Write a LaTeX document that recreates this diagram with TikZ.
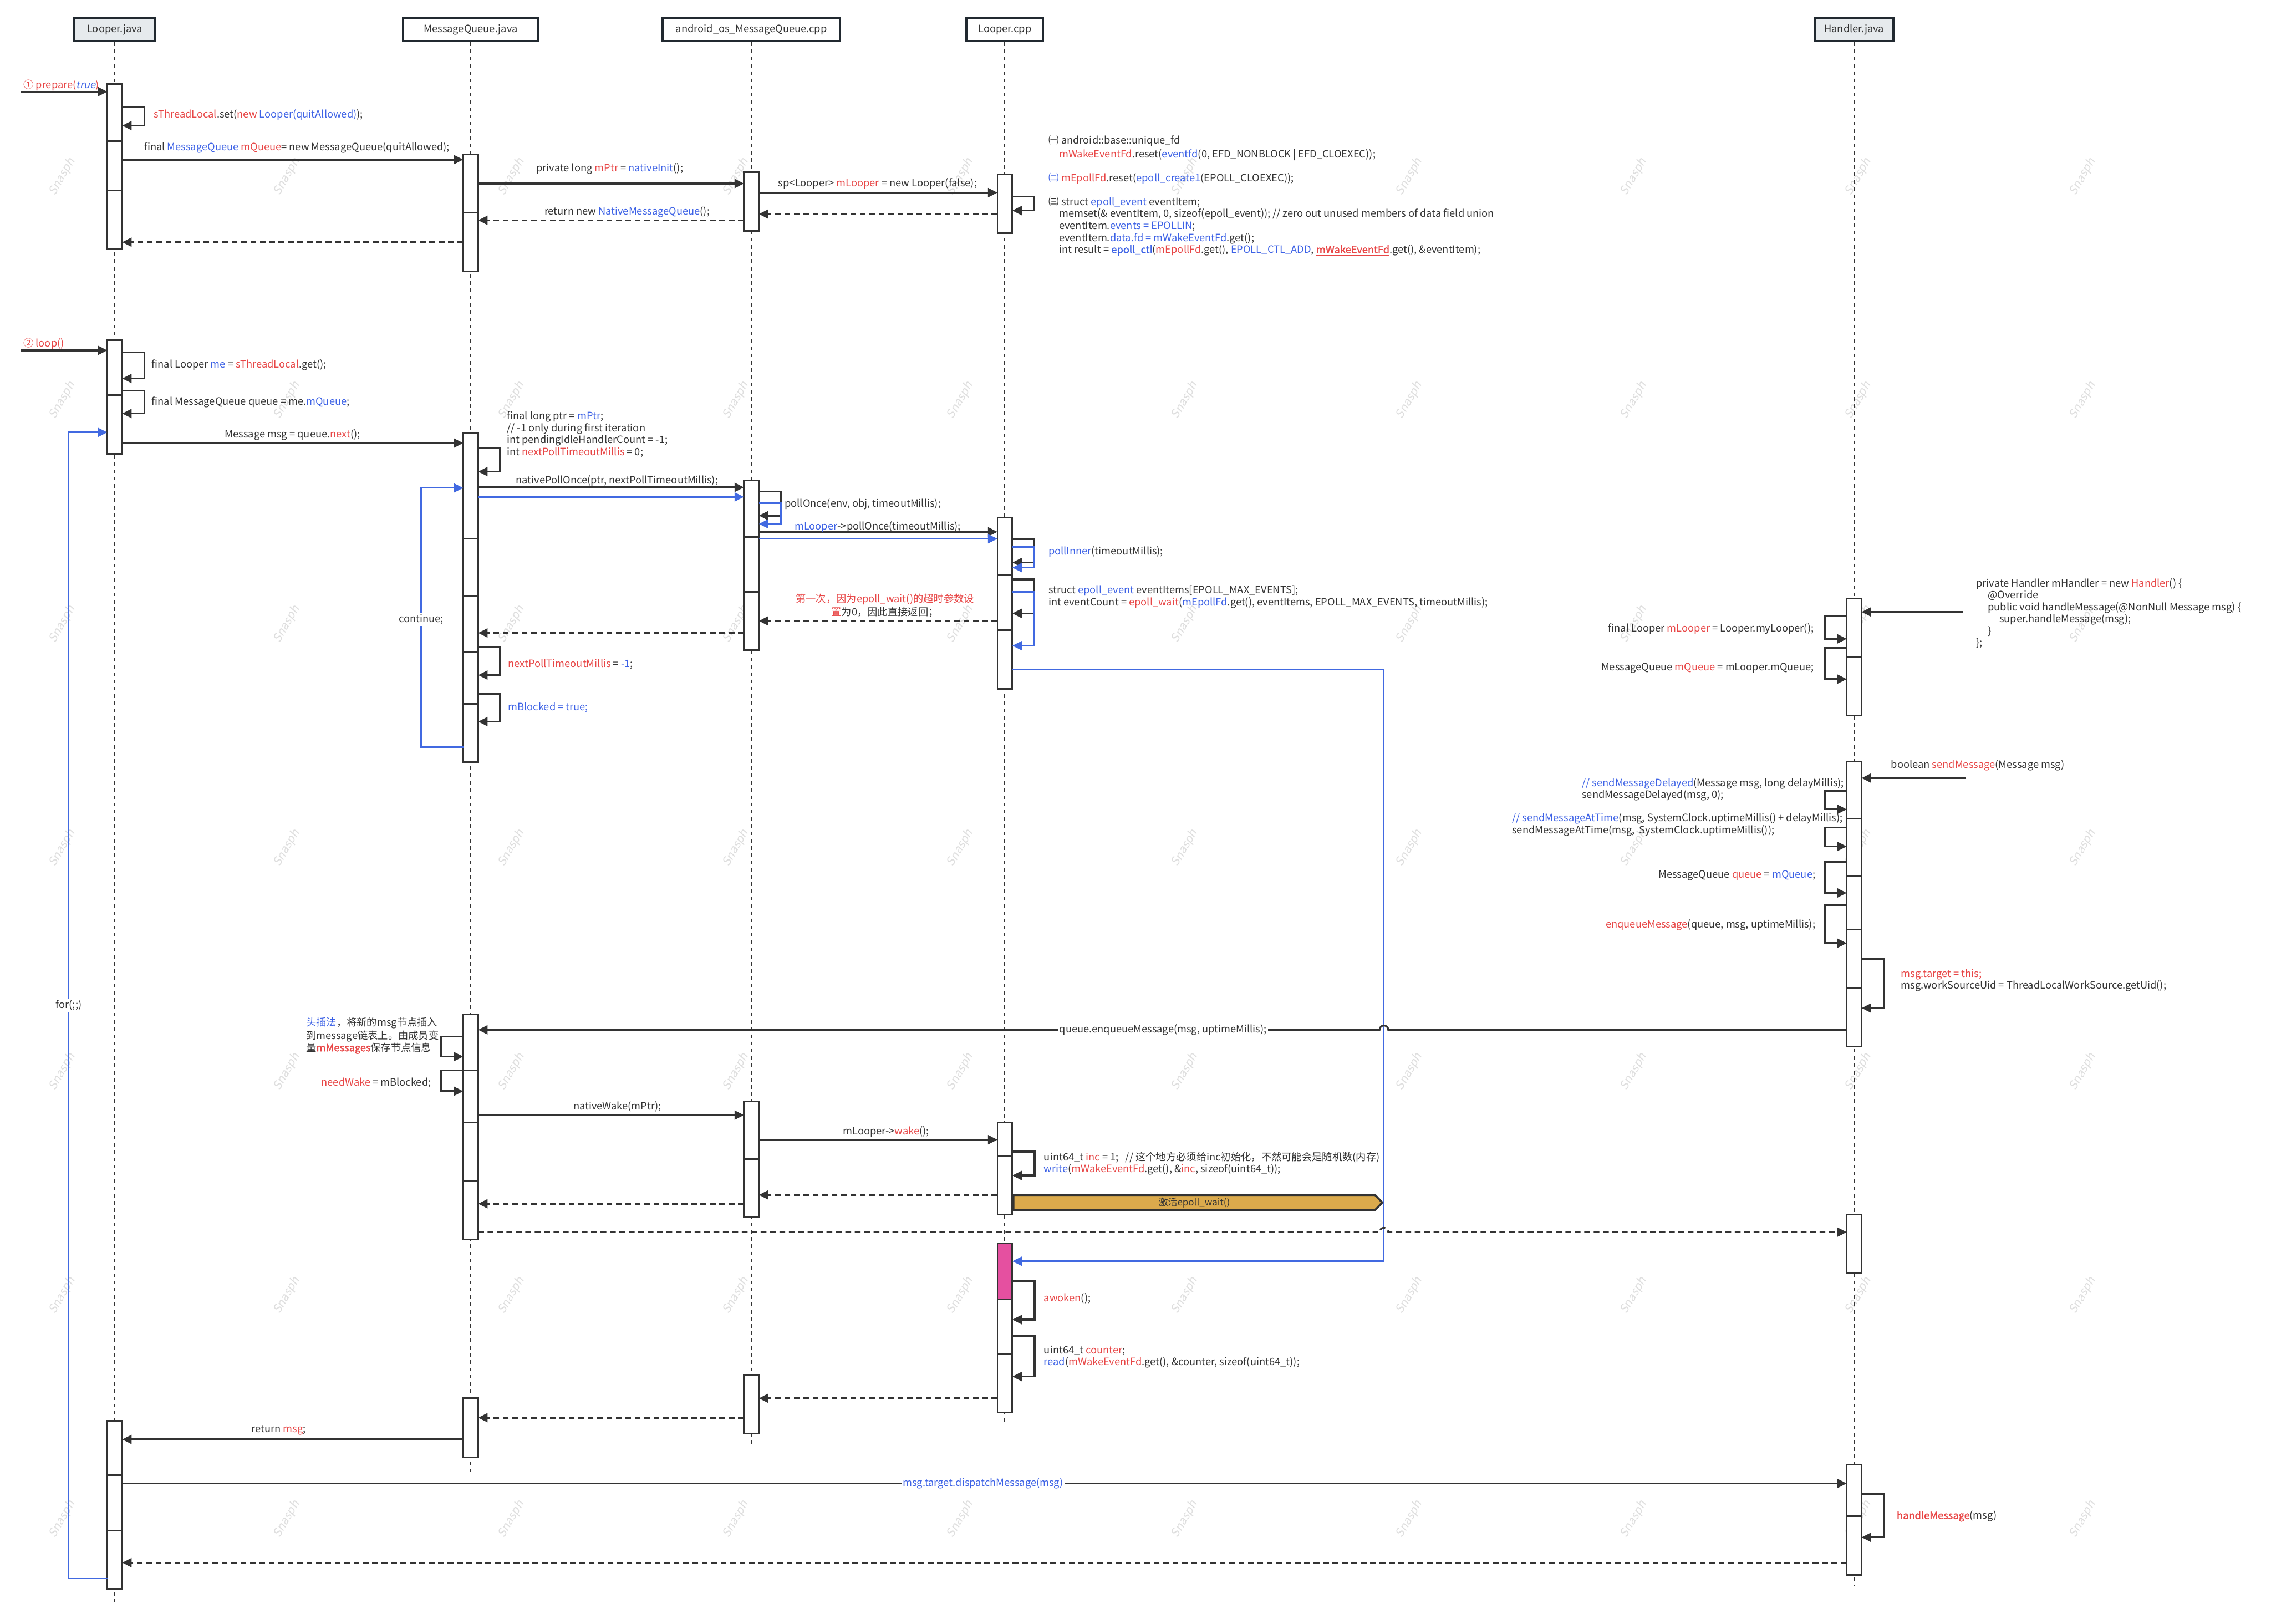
\documentclass[tikz,border=0pt]{standalone}
\usepackage{fontspec}
\setmainfont{Noto Sans CJK SC}[AutoFakeSlant=0.2,AutoFakeBold=1.5]
\usetikzlibrary{arrows.meta}
\usetikzlibrary{shapes.symbols}
\definecolor{SeqDark}{RGB}{51,51,51}
\definecolor{SeqHead}{RGB}{33,41,48}
\definecolor{SeqHeadFill}{RGB}{230,234,237}
\definecolor{SeqRed}{RGB}{232,70,70}
\definecolor{SeqBlue}{RGB}{61,98,230}
\definecolor{SeqLoop}{RGB}{65,105,225}
\definecolor{SeqGold}{RGB}{219,170,76}
\definecolor{SeqPink}{RGB}{229,80,160}
\definecolor{SeqMark}{RGB}{222,222,222}
\newcommand{\cred}[1]{\textcolor{SeqRed}{#1}}
\newcommand{\cblue}[1]{\textcolor{SeqBlue}{#1}}

\begin{document}
\begin{tikzpicture}[x=1pt,y=-1pt,line join=miter]
  \path[use as bounding box] (0,0) rectangle (1568,1121);
  \fill[white] (0,0) rectangle (1568,1121);

  \tikzset{
    lifehead/.style={draw=SeqHead,line width=1.4pt,fill=white,minimum height=15.8pt,inner sep=0pt,
      text=SeqDark,font=\fontsize{7pt}{8.25pt}\selectfont},
    lifeline/.style={draw=SeqDark,line width=0.8pt,dash pattern=on 2.5pt off 2.5pt},
    actbar/.style={draw=SeqDark,fill=white,line width=1.1pt,minimum width=10.3pt,inner sep=0pt,outer sep=0pt},
    barcut/.style={draw=SeqDark,line width=1.1pt},
    msg/.style={draw=SeqDark,line width=1.25pt,-{Triangle[length=6.5pt,width=6.2pt]}},
    ret/.style={msg,dash pattern=on 4pt off 2.5pt},
    loopline/.style={draw=SeqLoop,line width=1pt,-{Triangle[length=6.5pt,width=6.2pt]}},
    code/.style={inner sep=0pt,text=SeqDark,font=\fontsize{7pt}{8.25pt}\selectfont},
    codeblock/.style={code,align=left,anchor=north west},
    onlabel/.style={code,fill=white,inner sep=1pt},
    wmark/.style={inner sep=0pt,text=SeqMark,rotate=60,font=\fontsize{8pt}{8pt}\selectfont\itshape},
    wakeflag/.style={signal,signal to=east,signal from=nowhere,signal pointer angle=93,draw=SeqDark,
      line width=1.4pt,fill=SeqGold,minimum width=254.7pt,minimum height=10.3pt,inner sep=0pt,
      text=SeqDark,font=\fontsize{6.5pt}{7pt}\selectfont},
  }

  % watermark grid
  \foreach \i in {0,...,9} {
    \foreach \j in {0,...,6} {
      \node[wmark] (wm\i\j) at ({43+155*\i},{122+154.5*\j}) {Snasph};
    }
  }

  % ==================== LIFELINES ====================
  \node[lifehead,fill=SeqHeadFill,minimum width=56pt] (hLooper) at (79.25,20.6) {Looper.java};
  \node[lifehead,minimum width=93.6pt] (hQueue) at (325,20.6) {MessageQueue.java};
  \node[lifehead,minimum width=122.8pt] (hNative) at (518.8,20.6) {android\_os\_MessageQueue.cpp};
  \node[lifehead,minimum width=53pt] (hCpp) at (693.8,20.6) {Looper.cpp};
  \node[lifehead,fill=SeqHeadFill,minimum width=54pt] (hHandler) at (1280.2,20.6) {Handler.java};

  \draw[lifeline] (hLooper.south) -- (hLooper.south |- 0,1106);
  \draw[lifeline] (hQueue.south) -- (hQueue.south |- 0,1016);
  \draw[lifeline] (hNative.south) -- (hNative.south |- 0,998);
  \draw[lifeline] (hCpp.south) -- (hCpp.south |- 0,983);
  \draw[lifeline] (hHandler.south) -- (hHandler.south |- 0,1095);

  % activation bars (name/x/top/bottom)
  \foreach \n/\x/\t/\b in {lj1/79.25/58/171.8, lj2/79.25/234.7/313.3, lj3/79.25/980.8/1097.1,
      mq1/325/106.5/187.3, mq2/325/299.1/526.2, mq3/325/700.2/855.6, mq4/325/965.3/1006,
      an1/518.8/119/159.4, an2/518.8/331.6/449, an3/518.8/760.5/840.5, an4/518.8/949.4/989.9,
      cp1/693.8/120.6/161, cp2/693.8/357.3/475.5, cp3/693.8/775/838.4, cp4/693.8/897/975.3,
      hd1/1280.2/413.1/494, hd2/1280.2/525.6/722.4, hd3/1280.2/838.5/878.6, hd4/1280.2/1011.4/1087.3} {
    \node[actbar,minimum height={(\b-\t)*1pt}] (\n) at (\x,{(\t+\b)/2}) {};
  }
  \node[actbar,fill=SeqPink,minimum height=38.5pt] (cp4a) at (693.8,877.75) {};

  \foreach \n/\y in {lj1/97.5,lj1/131.5,lj2/272.8,lj3/1018.6,lj3/1056.7,mq1/146.8,
      mq2/371.9,mq2/411.4,mq2/449.9,mq2/486.1,mq3/738.8,mq3/775,mq3/815.3,
      an2/370.9,an2/408.6,an3/800.2,cp2/396.8,cp2/435.1,cp3/798.3,cp4/934.8,
      hd1/453.5,hd2/565.2,hd2/604.7,hd2/641.8,hd2/682.2,hd4/1046.8} {
    \draw[barcut] (\n.west |- 0,\y) -- (\n.east |- 0,\y);
  }

  % ==================== PREPARE ====================
  \coordinate (prepIn) at (14,63.3);
  \draw[msg] (prepIn) -- (lj1.west |- prepIn);
  \draw[msg] (lj1.east |- 0,73.7) -- ++(15.4,0) |- (lj1.east |- 0,86.7);
  \draw[msg] (lj1.east |- 0,110.2) -- (mq1.west |- 0,110.2);
  \draw[msg] (mq1.east |- 0,126.7) -- (an1.west |- 0,126.7);
  \draw[msg] (an1.east |- 0,133) -- (cp1.west |- 0,133);
  \draw[msg] (cp1.east |- 0,135.7) -- ++(15,0) |- (cp1.east |- 0,145.4);
  \draw[ret] (cp1.west |- 0,147.8) -- (an1.east |- 0,147.8);
  \draw[ret] (an1.west |- 0,152.1) -- (mq1.east |- 0,152.1);
  \draw[ret] (mq1.west |- 0,167.2) -- (lj1.east |- 0,167.2);

  \node[code,anchor=base west] (tPrepare) at (16,60.9) {\cred{① prepare(}\cblue{\textit{true}}\cred{)}};
  \node[code,anchor=base west] (tSet) at (105.9,81.3) {\cred{sThreadLocal}.set(\cred{new }\cblue{Looper(quitAllowed)});};
  \node[code,anchor=base] (tNewQueue) at (205,104.1) {final \cblue{MessageQueue} \cred{mQueue}= new MessageQueue(quitAllowed);};
  \node[code,anchor=base] (tInit) at (421,118.3) {private long \cred{mPtr} = \cblue{nativeInit}();};
  \node[code,anchor=base] (tNewLooper) at (606,128.8) {sp<Looper> \cred{mLooper} = new Looper(false);};
  \node[code,anchor=base] (tRetNative) at (433,148.5) {return new \cblue{NativeMessageQueue}();};
  \node[codeblock] (tEpollInit) at (724,93.4) {\strut㈠ android::base::unique\_fd\\
    \hspace*{7pt}\cred{mWakeEventFd}.reset(\cblue{eventfd}(0, EFD\_NONBLOCK | EFD\_CLOEXEC));\\[8.25pt]
    \cblue{㈡} \cred{mEpollFd}.reset(\cblue{epoll\_create1}(EPOLL\_CLOEXEC));\\[8.25pt]
    ㈢ struct \cblue{epoll\_event} eventItem;\\
    \hspace*{7pt}memset(\& eventItem, 0, sizeof(epoll\_event)); // zero out unused members of data field union\\
    \hspace*{7pt}eventItem.\cblue{events = EPOLLIN};\\
    \hspace*{7pt}eventItem.\cblue{data.fd = mWakeEventFd}.get();\\
    \hspace*{7pt}int result = \cblue{\textbf{epoll\_ctl}}(\cred{mEpollFd}.get(), \cblue{EPOLL\_CTL\_ADD}, \cred{\textbf{\underline{mWakeEventFd}}}.get(), \&eventItem);};

  % ==================== LOOP ====================
  \coordinate (loopIn) at (14.4,241.9);
  \draw[msg] (loopIn) -- (lj2.west |- loopIn);
  \draw[msg] (lj2.east |- 0,243.4) -- ++(15.4,0) |- (lj2.east |- 0,261.3);
  \draw[msg] (lj2.east |- 0,269.7) -- ++(15.4,0) |- (lj2.east |- 0,285.5);
  \draw[msg] (lj2.east |- 0,305.9) -- (mq2.west |- 0,305.9);
  \draw[msg] (mq2.east |- 0,309) -- ++(15,0) |- (mq2.east |- 0,325.6);
  \draw[msg] (mq2.east |- 0,336.5) -- (an2.west |- 0,336.5);
  \draw[loopline] (mq2.east |- 0,343.1) -- (an2.west |- 0,343.1);
  \draw[msg] (an2.east |- 0,339.3) -- ++(15.2,0) |- (an2.east |- 0,356);
  \draw[loopline] (an2.east |- 0,347.5) -- ++(15.2,0) |- (an2.east |- 0,361.7);
  \draw[msg] (an2.east |- 0,367.2) -- (cp2.west |- 0,367.2);
  \draw[loopline] (an2.east |- 0,372) -- (cp2.west |- 0,372);
  \draw[msg] (cp2.east |- 0,372.3) -- ++(14.8,0) |- (cp2.east |- 0,388.4);
  \draw[loopline] (cp2.east |- 0,377.7) -- ++(14.8,0) |- (cp2.east |- 0,391.9);
  \draw[msg] (cp2.east |- 0,400) -- ++(14.8,0) |- (cp2.east |- 0,423.5);
  \draw[loopline] (cp2.east |- 0,408.6) -- ++(14.8,0) |- (cp2.east |- 0,445.8);
  \draw[ret] (cp2.west |- 0,428.7) -- (an2.east |- 0,428.7);
  \draw[ret] (an2.west |- 0,437) -- (mq2.east |- 0,437);
  \draw[msg] (mq2.east |- 0,446.8) -- ++(15,0) |- (mq2.east |- 0,466.1);
  \draw[msg] (mq2.east |- 0,479.3) -- ++(15,0) |- (mq2.east |- 0,498.2);
  % continue back into nativePollOnce
  \draw[loopline] (mq2.west |- 0,515.9) -| (290.7,336.9) -- (mq2.west |- 0,336.9);
  % wake-up route from epoll_wait to awoken
  \draw[loopline] (cp2.east |- 0,462.3) -| (955.5,870.8) -- (cp4a.east |- 0,870.8);

  \node[code,anchor=base west] (tLoop) at (16,239.5) {\cred{② loop()}};
  \node[code,anchor=base west] (tMe) at (104.6,253.9) {final Looper \cblue{me} = \cred{sThreadLocal}.get();};
  \node[code,anchor=base west] (tQueue) at (104.6,279.6) {final MessageQueue queue = me.\cblue{mQueue};};
  \node[code,anchor=base] (tNext) at (202,302.2) {Message msg = queue.\cred{next}();};
  \node[codeblock] (tNextVars) at (349.8,283.7) {\strut final long ptr = \cblue{mPtr};\\
    // -1 only during first iteration\\
    int pendingIdleHandlerCount = -1;\\
    int \cred{nextPollTimeoutMillis} = 0;};
  \node[code,anchor=base] (tPollJava) at (426,334.1) {nativePollOnce(ptr, nextPollTimeoutMillis);};
  \node[code,anchor=base west] (tPollNative) at (541.6,349.9) {pollOnce(env, obj, timeoutMillis);};
  \node[code,anchor=base] (tPollCpp) at (606,365.7) {\cblue{mLooper}->pollOnce(timeoutMillis);};
  \node[code,anchor=base west] (tInner) at (723.7,383) {\cblue{pollInner}(timeoutMillis);};
  \node[codeblock] (tWait) at (723.7,404) {\strut struct \cblue{epoll\_event} eventItems[EPOLL\_MAX\_EVENTS];\\
    int eventCount = \cred{epoll\_wait}(\cblue{mEpollFd}.get(), eventItems, EPOLL\_MAX\_EVENTS, timeoutMillis);};
  \node[code,align=center,anchor=north] (tFirst) at (611,409.7) {\strut\cred{第一次，因为epoll\_wait()的超时参数设}\\
    \cred{置}为0，因此直接返回；};
  \node[code,anchor=base west] (tTimeout) at (350.7,460.6) {\cred{nextPollTimeoutMillis} = \cblue{-1};};
  \node[code,anchor=base west] (tBlocked) at (350.7,490.7) {\cblue{mBlocked = true;}};
  \node[onlabel] (tContinue) at (290.7,427.7) {continue;};

  % ==================== HANDLER ====================
  \coordinate (hdIn1) at (1355.4,422.5);
  \coordinate (hdIn2) at (1357.5,537.2);
  \draw[msg] (hdIn1) -- (hd1.east |- hdIn1);
  \draw[msg] (hd1.west |- 0,425.5) -- ++(-15,0) |- (hd1.west |- 0,441.1);
  \draw[msg] (hd1.west |- 0,447.5) -- ++(-15,0) |- (hd1.west |- 0,468.9);
  \draw[msg] (hdIn2) -- (hd2.east |- hdIn2);
  \foreach \t/\b in {546/558.8, 571.4/584.4, 594.9/616.5, 624.9/651.2} {
    \draw[msg] (hd2.west |- 0,\t) -- ++(-15,0) |- (hd2.west |- 0,\b);
  }
  \draw[msg] (hd2.east |- 0,661.9) -- ++(15.6,0) |- (hd2.east |- 0,696);

  \node[codeblock] (tHandlerDef) at (1364.3,399.1) {\strut private Handler mHandler = new \cred{Handler}() \{\\
    \hspace*{8pt}@Override\\
    \hspace*{8pt}public void handleMessage(@NonNull Message msg) \{\\
    \hspace*{16pt}super.handleMessage(msg);\\
    \hspace*{8pt}\}\\
    \};};
  \node[code,anchor=base east] (tMyLooper) at (1252.5,436.1) {final Looper \cred{mLooper} = Looper.myLooper();};
  \node[code,anchor=base east] (tHdQueue) at (1252.5,463.1) {MessageQueue \cred{mQueue} = mLooper.mQueue;};
  \node[code,anchor=base west] (tSend) at (1305.5,530.3) {boolean \cred{sendMessage}(Message msg)};
  \node[code,align=left,anchor=north east] (tDelayed) at (1273.4,536.9) {\strut\cblue{// sendMessageDelayed}(Message msg, long delayMillis);\\
    sendMessageDelayed(msg, 0);};
  \node[code,align=left,anchor=north east] (tAtTime) at (1272.4,561.3) {\strut\cblue{// sendMessageAtTime}(msg, SystemClock.uptimeMillis() + delayMillis);\\
    sendMessageAtTime(msg,~ SystemClock.uptimeMillis());};
  \node[code,anchor=base east] (tSendQueue) at (1253.6,606.2) {MessageQueue \cred{queue} = \cblue{mQueue};};
  \node[code,anchor=base east] (tEnqueue) at (1253.6,640.8) {\cred{enqueueMessage}(queue, msg, uptimeMillis);};
  \node[codeblock] (tTarget) at (1312.4,668.6) {\strut\cred{msg.target = this;}\\
    msg.workSourceUid = ThreadLocalWorkSource.getUid();};

  % ==================== ENQUEUE & WAKE ====================
  \draw[msg] (hd2.west |- 0,711) -- (958.5,711) arc[start angle=0,end angle=180,radius=3pt] -- (mq3.east |- 0,711);
  \draw[msg] (mq3.west |- 0,715.6) -- ++(-15.5,0) |- (mq3.west |- 0,729.5);
  \draw[msg] (mq3.west |- 0,739.1) -- ++(-15.5,0) |- (mq3.west |- 0,753.4);
  \draw[msg] (mq3.east |- 0,769.9) -- (an3.west |- 0,769.9);
  \draw[msg] (an3.east |- 0,786.9) -- (cp3.west |- 0,786.9);
  \draw[msg] (cp3.east |- 0,795.1) -- ++(15.4,0) |- (cp3.east |- 0,811.6);
  \draw[ret] (cp3.west |- 0,825) -- (an3.east |- 0,825);
  \draw[ret] (an3.west |- 0,831.1) -- (mq3.east |- 0,831.1);
  \draw[ret] (mq3.east |- 0,850.7) -- (952.5,850.7) arc[start angle=180,end angle=0,radius=3pt] -- (hd3.west |- 0,850.7);
  \node[wakeflag,anchor=west] (wakeFlag) at (cp3.east |- 0,830.25) {激活epoll\_wait()};

  \node[onlabel] (tEnqueueCall) at (803,711) {queue.enqueueMessage(msg, uptimeMillis);};
  \node[codeblock] (tHeadInsert) at (211.2,702.1) {\strut\cblue{头插法}，将新的msg节点插入\\
    到message链表上。由成员变\\
    量\cred{\textbf{mMessages}}保存节点信息};
  \node[code,anchor=base east] (tNeedWake) at (297.8,749.6) {\cred{needWake} = mBlocked;};
  \node[code,anchor=base] (tNativeWake) at (426.2,766.3) {nativeWake(mPtr);};
  \node[code,anchor=base] (tWake) at (611.8,783.4) {mLooper->\cred{wake}();};
  \node[codeblock] (tWrite) at (720.6,795.1) {\strut uint64\_t \cred{inc} = 1;~~~// 这个地方必须给inc初始化，不然可能会是随机数(内存)\\
    \cblue{write}(\cred{mWakeEventFd}.get(), \&\cred{inc}, sizeof(uint64\_t));};

  % ==================== AWOKEN & DISPATCH ====================
  \draw[msg] (cp4a.east |- 0,884.7) -- ++(15.4,0) |- (cp4.east |- 0,911.1);
  \draw[msg] (cp4.east |- 0,922.5) -- ++(15.4,0) |- (cp4.east |- 0,950.4);
  \draw[ret] (cp4.west |- 0,965.4) -- (an4.east |- 0,965.4);
  \draw[ret] (an4.west |- 0,978.8) -- (mq4.east |- 0,978.8);
  \draw[msg] (mq4.west |- 0,993.8) -- (lj3.east |- 0,993.8);
  \draw[msg] (lj3.east |- 0,1024.2) -- (hd4.west |- 0,1024.2);
  \draw[msg] (hd4.east |- 0,1031.5) -- ++(15.2,0) |- (hd4.east |- 0,1061.4);
  \draw[ret] (hd4.west |- 0,1078.9) -- (lj3.east |- 0,1078.9);
  % for(;;) back into queue.next()
  \draw[loopline] (lj3.west |- 0,1089.8) -| (47.5,298.5) -- (lj2.west |- 0,298.5);

  \node[code,anchor=base west] (tAwoken) at (720.6,898.7) {\cred{awoken}();};
  \node[codeblock] (tRead) at (720.6,928.6) {\strut uint64\_t \cred{counter};\\
    \cblue{read}(\cred{mWakeEventFd}.get(), \&counter, sizeof(uint64\_t));};
  \node[code,anchor=base] (tReturnMsg) at (192.5,988.8) {return \cred{msg};};
  \node[onlabel,text=SeqBlue] (tDispatch) at (678.7,1024.3) {msg.target.dispatchMessage(msg)};
  \node[code,anchor=base west] (tHandle) at (1309.4,1048.8) {\cred{\textbf{handleMessage}}(msg)};
  \node[onlabel] (tFor) at (47.5,694) {for(;;)};

\end{tikzpicture}
\end{document}
